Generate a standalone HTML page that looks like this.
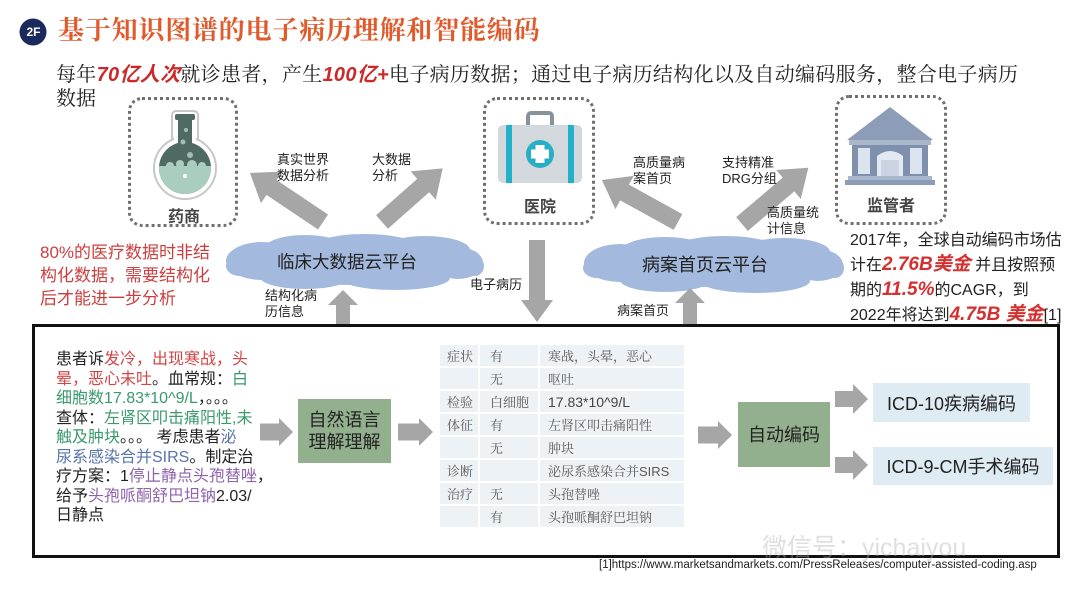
<!DOCTYPE html>
<html><head><meta charset="utf-8">
<style>
html,body{margin:0;padding:0;background:#fff;}
body{width:1080px;height:607px;position:relative;overflow:hidden;font-family:"Liberation Sans","Noto Sans CJK SC",sans-serif;color:#222;}
.a{position:absolute;white-space:nowrap;}
.lbl{font-size:13px;line-height:16px;color:#222;}
.dot{position:absolute;border:3px dotted #707070;border-radius:14px;box-sizing:border-box;}
.icl{position:absolute;font-size:16px;font-weight:bold;color:#444;text-align:center;}
.r{color:#d24545;} .g{color:#3a9a6c;} .b{color:#5775ad;} .p{color:#8e63ad;}
.bi{font-weight:bold;font-style:italic;color:#cc2a2a;}
table.t{position:absolute;left:440px;top:345px;border-collapse:separate;border-spacing:0;font-size:13px;color:#5a5a5a;font-family:"Liberation Sans","Noto Serif CJK SC",serif;}
table.t td{background:#edf2f7;height:23px;padding:0;border-bottom:2px solid #fff;border-right:2px solid #fff;vertical-align:middle;}
table.t td.c1{width:40px;padding-left:7px;box-sizing:border-box;}
table.t td.c2{width:60px;padding-left:10px;box-sizing:border-box;}
table.t td.c3{width:146px;padding-left:8px;box-sizing:border-box;}
.gb{position:absolute;background:#93b08e;color:#222;font-size:18px;line-height:22px;text-align:center;display:flex;align-items:center;justify-content:center;}
.ib{position:absolute;background:#deebf2;color:#222;font-size:18px;display:flex;align-items:center;justify-content:center;}
</style></head><body>

<svg width="1080" height="607" style="position:absolute;left:0;top:0">
  <circle cx="33" cy="32" r="13.5" fill="#1b2a5c"/>
  <g fill="#a4b9de">
    <ellipse cx="355" cy="264" rx="122" ry="21"/>
    <ellipse cx="262" cy="261" rx="36" ry="19"/>
    <ellipse cx="305" cy="250" rx="42" ry="15"/>
    <ellipse cx="365" cy="247" rx="52" ry="13"/>
    <ellipse cx="425" cy="250" rx="45" ry="14"/>
    <ellipse cx="458" cy="263" rx="25" ry="16"/>
    <ellipse cx="305" cy="277" rx="45" ry="12"/>
    <ellipse cx="395" cy="278" rx="55" ry="12"/>
    <ellipse cx="240" cy="266" rx="14" ry="10"/>
    <ellipse cx="475" cy="266" rx="9" ry="10"/>
  </g>
  <g fill="#a4b9de">
    <ellipse cx="713" cy="266" rx="122" ry="21"/>
    <ellipse cx="620" cy="263" rx="36" ry="19"/>
    <ellipse cx="665" cy="252" rx="45" ry="15"/>
    <ellipse cx="725" cy="249" rx="52" ry="13"/>
    <ellipse cx="785" cy="252" rx="45" ry="14"/>
    <ellipse cx="818" cy="265" rx="25" ry="16"/>
    <ellipse cx="665" cy="280" rx="45" ry="12"/>
    <ellipse cx="755" cy="281" rx="55" ry="12"/>
    <ellipse cx="597" cy="268" rx="14" ry="10"/>
    <ellipse cx="835" cy="268" rx="9" ry="10"/>
  </g>
  <g fill="#a6a6a6">
    <g transform="translate(323 222) rotate(213.9)"><polygon points="0,-9 62,-9 62,-19 88,0 62,19 62,9 0,9"/></g>
    <g transform="translate(382 222) rotate(-41.5)"><polygon points="0,-9 55,-9 55,-19 81,0 55,19 55,9 0,9"/></g>
    <g transform="translate(678 222) rotate(208.9)"><polygon points="0,-9 61,-9 61,-19 87,0 61,19 61,9 0,9"/></g>
    <g transform="translate(742 224) rotate(-40.3)"><polygon points="0,-9 61,-9 61,-19 87,0 61,19 61,9 0,9"/></g>
    <g transform="translate(537 240) rotate(90)"><polygon points="0,-8 60,-8 60,-16 82,0 60,16 60,8 0,8"/></g>
    <g transform="translate(343 326) rotate(-90)"><polygon points="0,-7 21,-7 21,-15 36,0 21,15 21,7 0,7"/></g>
    <g transform="translate(690 326) rotate(-90)"><polygon points="0,-7 23,-7 23,-15 38,0 23,15 23,7 0,7"/></g>
    <polygon points="260,423.5 279,423.5 279,418 293,432 279,446 279,440.5 260,440.5"/>
    <polygon points="398,423.5 419,423.5 419,418 433,432 419,446 419,440.5 398,440.5"/>
    <polygon points="698,426.5 718,426.5 718,421 732,435 718,449 718,443.5 698,443.5"/>
    <polygon points="835,391 853,391 853,384 868,399 853,414 853,407 835,407"/>
    <polygon points="835,457 853,457 853,450 868,465 853,480 853,473 835,473"/>
  </g>
  <g>
    <rect x="172" y="111" width="26" height="40" rx="4" fill="#fff" stroke="#c8c8c8" stroke-width="2"/>
    <circle cx="185" cy="168" r="31" fill="#fff" stroke="#c8c8c8" stroke-width="2"/>
    <rect x="174" y="114" width="22" height="38" fill="#fff"/>
    <rect x="175" y="114" width="20" height="6" rx="2" fill="#4f6a63"/>
    <rect x="178" y="119" width="14" height="30" fill="#4f6a63"/>
    <circle cx="185" cy="168" r="26" fill="#4f6a63"/>
    <clipPath id="bulb"><circle cx="185" cy="168" r="26"/></clipPath>
    <rect x="155" y="166" width="60" height="35" fill="#a9cdbf" clip-path="url(#bulb)"/>
    <circle cx="170" cy="166" r="4" fill="#a9cdbf"/>
    <circle cx="180" cy="164" r="4" fill="#a9cdbf"/>
    <circle cx="192" cy="165" r="5" fill="#a9cdbf"/>
    <circle cx="202" cy="166" r="4" fill="#a9cdbf"/>
    <circle cx="186" cy="130" r="2" fill="#9fbfb4"/>
    <circle cx="183" cy="142" r="2.5" fill="#9fbfb4"/>
    <circle cx="190" cy="155" r="3" fill="#9fbfb4"/>
    <circle cx="185" cy="176" r="2" fill="#fff"/>
  </g>
  <g>
    <rect x="528" y="113" width="24" height="16" rx="3" fill="none" stroke="#8a9299" stroke-width="4"/>
    <rect x="498" y="125" width="84" height="58" rx="5" fill="#d3d8dd"/>
    <rect x="506" y="125" width="6" height="58" fill="#23b0c9"/>
    <rect x="568" y="125" width="6" height="58" fill="#23b0c9"/>
    <circle cx="540" cy="154" r="14" fill="#26aec6"/>
    <rect x="535.5" y="145" width="9" height="18" fill="#fff"/>
    <rect x="531" y="149.5" width="18" height="9" fill="#fff"/>
  </g>
  <g>
    <polygon points="847,140 890,107 933,140" fill="#8d9db8"/>
    <rect x="849" y="140" width="82" height="5" fill="#aab7cb"/>
    <rect x="852" y="145" width="76" height="31" fill="#7e90ac"/>
    <rect x="858" y="148" width="12" height="26" fill="#dce4ef"/>
    <rect x="910" y="148" width="12" height="26" fill="#dce4ef"/>
    <path d="M877,176 L877,156 Q890,146 903,156 L903,176 Z" fill="#e3e9f2"/>
    <rect x="881" y="160" width="18" height="16" fill="#c9d3e2"/>
    <rect x="848" y="176" width="84" height="4" fill="#aab7cb"/>
    <rect x="845" y="180" width="90" height="5" fill="#8d9db8"/>
  </g>
</svg>

<div class="a" style="left:20px;top:24px;width:27px;text-align:center;font-size:12px;color:#fff;font-weight:bold;line-height:16px;">2F</div>
<div class="a" style="left:58px;top:14px;font-size:26px;line-height:34px;font-weight:bold;color:#e05a2b;letter-spacing:0.8px;font-family:'Liberation Serif','Noto Serif CJK SC',serif;">基于知识图谱的电子病历理解和智能编码</div>

<div class="a" style="left:56px;top:64px;font-size:20px;line-height:23px;color:#222;letter-spacing:0.3px;font-family:'Liberation Serif','Noto Serif CJK SC',serif;">每年<span class="bi" style="font-family:'Liberation Sans','Noto Sans CJK SC',sans-serif;">70亿人次</span>就诊患者，产生<span class="bi" style="font-family:'Liberation Sans','Noto Sans CJK SC',sans-serif;">100亿+</span>电子病历数据；通过电子病历结构化以及自动编码服务，整合电子病历</div>
<div class="a" style="left:56px;top:88px;font-size:20px;line-height:23px;color:#222;font-family:'Liberation Serif','Noto Serif CJK SC',serif;">数据</div>

<div class="dot" style="left:128px;top:97px;width:110px;height:130px;"></div>
<div class="dot" style="left:483px;top:97px;width:112px;height:128px;"></div>
<div class="dot" style="left:835px;top:95px;width:112px;height:130px;"></div>
<div class="icl" style="left:128px;top:203px;width:112px;">药商</div>
<div class="icl" style="left:483px;top:193px;width:114px;">医院</div>
<div class="icl" style="left:835px;top:192px;width:112px;">监管者</div>

<div class="a lbl" style="left:277px;top:152px;">真实世界<br>数据分析</div>
<div class="a lbl" style="left:372px;top:152px;">大数据<br>分析</div>
<div class="a lbl" style="left:633px;top:155px;">高质量病<br>案首页</div>
<div class="a lbl" style="left:722px;top:155px;">支持精准<br>DRG分组</div>
<div class="a lbl" style="left:767px;top:205px;">高质量统<br>计信息</div>
<div class="a lbl" style="left:470px;top:277px;">电子病历</div>
<div class="a lbl" style="left:265px;top:288px;">结构化病<br>历信息</div>
<div class="a lbl" style="left:617px;top:303px;">病案首页</div>

<div class="a" style="left:277px;top:251px;font-size:17.5px;line-height:22px;color:#222;">临床大数据云平台</div>
<div class="a" style="left:642px;top:254px;font-size:18px;line-height:22px;color:#222;">病案首页云平台</div>

<div class="a" style="left:40px;top:241px;font-size:17px;line-height:23px;color:#cc3f3f;">80%的医疗数据时非结<br>构化数据，需要结构化<br>后才能进一步分析</div>

<div class="a" style="left:850px;top:229px;font-size:16px;line-height:24px;color:#222;">2017年，全球自动编码市场估<br>计在<span class="bi" style="font-size:19px;color:#d43030;">2.76B美金</span> 并且按照预<br>期的<span class="bi" style="font-size:19px;color:#d43030;">11.5%</span>的CAGR，到<br>2022年将达到<span class="bi" style="font-size:19px;color:#d43030;">4.75B 美金</span>[1]</div>

<div style="position:absolute;left:32px;top:324px;width:1028px;height:234px;border:3px solid #111;box-sizing:border-box;"></div>

<div class="a" style="left:56px;top:350px;font-size:16px;line-height:19.5px;color:#222;">患者诉<span class="r">发冷，出现寒战，头</span><br><span class="r">晕，恶心未吐</span>。血常规：<span class="g">白</span><br><span class="g">细胞数17.83*10^9/L</span>，。。。<br>查体：<span class="g">左肾区叩击痛阳性,未</span><br><span class="g">触及肿块</span>。。。 考虑患者<span class="b">泌</span><br><span class="b">尿系感染合并SIRS</span>。制定治<br>疗方案：1<span class="p">停止静点头孢替唑</span>，<br>给予<span class="p">头孢哌酮舒巴坦钠</span>2.03/<br>日静点</div>

<div class="gb" style="left:298px;top:399px;width:93px;height:64px;">自然语言<br>理解理解</div>

<table class="t">
<tr><td class="c1">症状</td><td class="c2">有</td><td class="c3">寒战，头晕，恶心</td></tr>
<tr><td class="c1"></td><td class="c2">无</td><td class="c3">呕吐</td></tr>
<tr><td class="c1">检验</td><td class="c2">白细胞</td><td class="c3" style="font-family:'Liberation Sans',sans-serif;font-size:14px;color:#444;">17.83*10^9/L</td></tr>
<tr><td class="c1">体征</td><td class="c2">有</td><td class="c3">左肾区叩击痛阳性</td></tr>
<tr><td class="c1"></td><td class="c2">无</td><td class="c3">肿块</td></tr>
<tr><td class="c1">诊断</td><td class="c2"></td><td class="c3">泌尿系感染合并SIRS</td></tr>
<tr><td class="c1">治疗</td><td class="c2">无</td><td class="c3">头孢替唑</td></tr>
<tr><td class="c1"></td><td class="c2">有</td><td class="c3">头孢哌酮舒巴坦钠</td></tr>
</table>

<div class="gb" style="left:738px;top:402px;width:92px;height:65px;">自动编码</div>
<div class="ib" style="left:873px;top:383px;width:157px;height:39px;">ICD-10疾病编码</div>
<div class="ib" style="left:873px;top:447px;width:180px;height:38px;">ICD-9-CM手术编码</div>

<div class="a" style="left:762px;top:534px;font-size:25px;line-height:28px;color:rgba(175,175,175,0.4);">微信号：yichaiyou</div>

<div class="a" style="left:599px;top:558px;font-size:11.5px;line-height:14px;color:#222;">[1]https://www.marketsandmarkets.com/PressReleases/computer-assisted-coding.asp</div>

</body></html>
